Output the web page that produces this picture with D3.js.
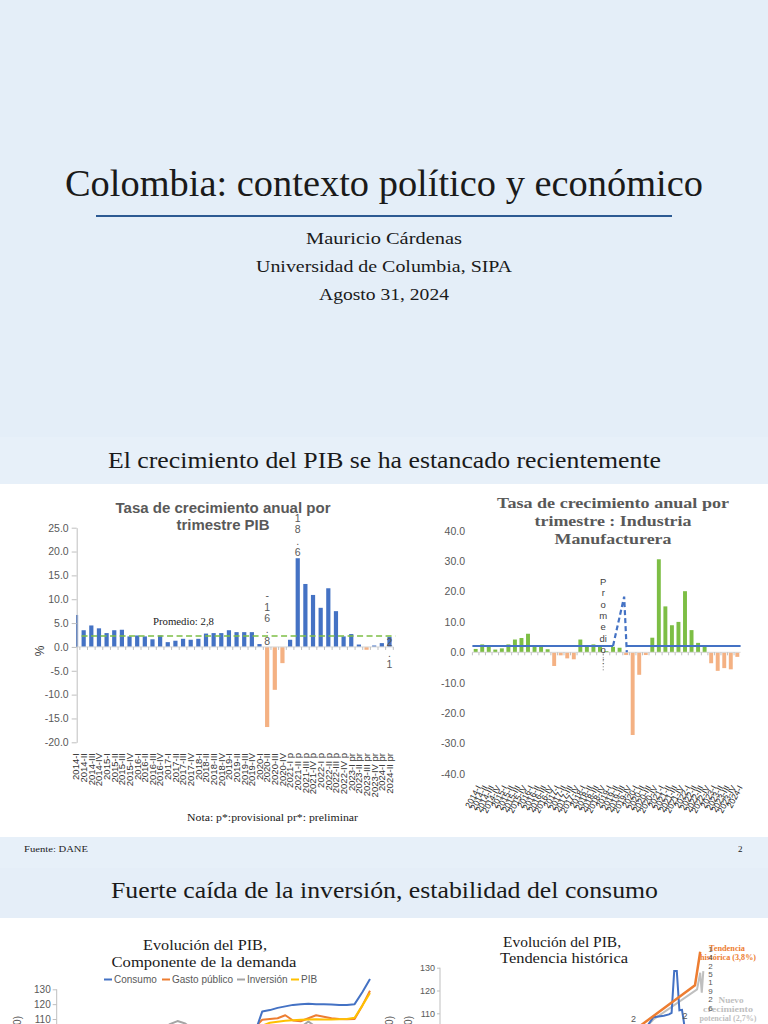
<!DOCTYPE html>
<html><head><meta charset="utf-8">
<script src="https://cdn.jsdelivr.net/npm/d3@7/dist/d3.min.js"></script>
<style>body{margin:0;background:#fff}svg{display:block}</style>
</head><body>
<svg id="c" width="768" height="1024"></svg>
<script>
// ---------------- DATA ----------------
const gdpQuarters = ["2014-I","2014-II","2014-III","2014-IV","2015-I","2015-II","2015-III","2015-IV",
 "2016-I","2016-II","2016-III","2016-IV","2017-I","2017-II","2017-III","2017-IV",
 "2018-I","2018-II","2018-III","2018-IV","2019-I","2019-II","2019-III","2019-IV",
 "2020-I","2020-II","2020-III","2020-IV","2021-I p","2021-II p","2021-III p","2021-IV p",
 "2022-I p","2022-II p","2022-III p","2022-IV p","2023-I pr","2023-II pr","2023-III pr","2023-IV pr",
 "2024-I pr","2024-II pr"];
const gdpGrowth = [6.7,3.5,4.5,3.9,2.9,3.5,3.6,2.2,2.4,2.2,1.6,2.4,1.0,1.3,1.7,1.5,1.7,2.8,2.9,2.9,
 3.5,3.1,3.1,3.1,0.6,-16.8,-9.0,-3.4,1.5,18.6,13.2,10.9,8.2,12.3,7.5,2.2,2.7,0.5,-0.6,0.3,0.8,2.1];
const gdpTicks = [25,20,15,10,5,0,-5,-10,-15,-20];
const gdpAvgLine = 2.3;
const gdpAvgText = "Promedio: 2,8";
const gdpLabelIdx = [25,29,41];

const mfgQuarters = ["2014-I","2014-II","2014-III","2014-IV","2015-I","2015-II","2015-III","2015-IV",
 "2016-I","2016-II","2016-III","2016-IV","2017-I","2017-II","2017-III","2017-IV",
 "2018-I","2018-II","2018-III","2018-IV","2019-I","2019-II","2019-III","2019-IV",
 "2020-I","2020-II","2020-III","2020-IV","2021-I","2021-II","2021-III","2021-IV",
 "2022-I","2022-II","2022-III","2022-IV","2023-I","2023-II","2023-III","2023-IV","2024-I"];
const mfgGrowth = [1.1,2.6,2.2,0.9,1.3,2.6,4.2,4.7,6.1,2.1,2.1,1.0,-4.5,-1.0,-2.0,-2.3,4.2,2.0,2.6,2.3,
 0.4,1.8,1.5,-0.9,-27.2,-7.4,-0.9,4.8,30.6,15.1,8.9,10.0,20.1,7.3,3.1,1.8,-3.6,-6.1,-5.2,-5.6,-1.5];
const mfgTicks = [40,30,20,10,0,-10,-20,-30,-40];
const mfgAvg = 2.1;
const mfgSpikeIdx = [21,22.7,23.1];
const mfgSpikeVal = [2.1,18.3,0];
const mfgAvgLetters = ["P","r","o","m","e","di","o",":"];

// demand components (quarter index from 2014-I, value index)
const demandNames = ["Consumo","Gasto público","Inversión","PIB"];
const consumoIdx = [24,25,26,27,28,29,30,31,32,33,34,35,36,37,38,39,40];
const consumoVal = [103,100,115,116,117.5,118.5,119.5,120,120.2,120,120,119.7,119.5,119.5,120,128,137];
const gastoIdx = [24,25,26,27,28,29,30,31,32,33,34,35,36,37,38,39,40];
const gastoVal = [102,104,109.5,110,110.5,112.5,109,108.5,110.5,112.5,111.5,110.5,110,109.8,110,119,129];
const inversionIdx = [12,13,14,15,16,17,18,30,31,32,33,34,40];
const inversionVal = [98,103,106.5,108.6,107,103,100,100,104.5,108.3,104.5,100,103];
const pibIdx = [25,26,27,28,29,30,31,32,33,34,35,36,37,38,39,40];
const pibVal = [100,105.5,107.5,108.2,108.8,109.2,109.5,109.6,109.8,109.6,109.7,109.8,110,110.8,119,127.5];
const demandTicks = [130,120,110];

// historical trend (year, index)
const trendT = [2016,2024,2024.5];
const trendV = [95.3,122.3,137];
const realT = [2019.0,2019.5,2020.0,2020.5,2021.0,2021.5,2021.75,2022.0,2022.25,2022.5,2022.75,2023.0];
const realV = [101,105,108.3,108.6,108.9,109.5,110.2,128.5,128.5,111.3,111.5,104];
const potT = [2019.0,2020.0,2024.2,2024.5,2024.65,2024.8];
const potV = [102.5,107.3,120.5,127.8,119,128.5];
const trendTicks = [130,120,110];

// ---------------- DRAW ----------------
const svg = d3.select("#c");
const serif = "'Liberation Serif','DejaVu Serif',serif";
const sans = "'Liberation Sans',Arial,sans-serif";
const BLUE = "#4472C4", SALMON = "#F4B183", GREEN = "#7DBE45", ORANGE = "#ED7D31", GREY = "#A5A5A5", GOLD = "#FFC000";

function label(g, s, x, y, o = {}) {
  const t = g.append("text").attr("x", x).attr("y", y).text(s)
    .attr("font-family", o.ff || serif).attr("font-size", o.fs || 12)
    .attr("fill", o.fill || "#1a1a1a").attr("text-anchor", o.anchor || "middle");
  if (o.bold) t.attr("font-weight", "bold");
  if (o.len) t.attr("textLength", o.len).attr("lengthAdjust", "spacingAndGlyphs");
  return t;
}

// backgrounds
svg.append("rect").attr("x",0).attr("y",0).attr("width",768).attr("height",437).attr("fill","#e4eef8");
svg.append("rect").attr("x",0).attr("y",437).attr("width",768).attr("height",47).attr("fill","#e7f0f9");
svg.append("rect").attr("x",0).attr("y",484).attr("width",768).attr("height",353).attr("fill","#ffffff");
svg.append("rect").attr("x",0).attr("y",837).attr("width",768).attr("height",31).attr("fill","#e7f0f9");
svg.append("rect").attr("x",0).attr("y",868).attr("width",768).attr("height",50).attr("fill","#e5eef8");
svg.append("rect").attr("x",0).attr("y",918).attr("width",768).attr("height",106).attr("fill","#ffffff");

// Slide 1
label(svg, "Colombia: contexto político y económico", 384, 196, {fs:37, len:638});
svg.append("line").attr("x1",96).attr("x2",672).attr("y1",216).attr("y2",216).attr("stroke","#2c5a93").attr("stroke-width",1.8);
label(svg, "Mauricio Cárdenas", 384, 244, {fs:17, len:156});
label(svg, "Universidad de Columbia, SIPA", 384, 272, {fs:17, len:256});
label(svg, "Agosto 31, 2024", 384, 300, {fs:17, len:130});

// Slide 2 header/footer
label(svg, "El crecimiento del PIB se ha estancado recientemente", 384.5, 468, {fs:23, len:553});
label(svg, "Fuente: DANE", 24, 852, {fs:9, anchor:"start", len:64});
label(svg, "2", 738, 852, {fs:9, anchor:"start"});

// ---------- Left chart: GDP growth ----------
const gL = svg.append("g");
const xL = d3.scaleBand().domain(gdpQuarters).range([72.2, 393.3]).paddingInner(0.45).paddingOuter(0.225);
const yL = d3.scaleLinear().domain([-20, 25]).range([742.3, 527.7]);
const axL = 76.7;
svg.append("clipPath").attr("id","clipL").append("rect").attr("x",axL-0.8).attr("y",500).attr("width",330).attr("height",260);
label(gL, "Tasa de crecimiento anual por", 223, 512.5, {ff:sans, fs:14, bold:true, fill:"#595959", len:215});
label(gL, "trimestre PIB", 223, 529.5, {ff:sans, fs:14, bold:true, fill:"#595959", len:93});

gL.append("g").attr("clip-path","url(#clipL)").selectAll("rect").data(gdpGrowth).join("rect")
  .attr("x", (d,i) => xL(gdpQuarters[i]))
  .attr("width", xL.bandwidth())
  .attr("y", d => yL(Math.max(0,d)))
  .attr("height", d => Math.abs(yL(d) - yL(0)))
  .attr("fill", d => d < 0 ? SALMON : BLUE);

const x1L = xL.range()[1];
gL.append("line").attr("x1",axL).attr("x2",x1L).attr("y1",yL(0)).attr("y2",yL(0)).attr("stroke","#d9d9d9").attr("stroke-width",1);
gL.selectAll("line.xt").data(gdpQuarters).join("line").attr("class","xt")
  .attr("x1", d => xL(d) + xL.bandwidth() + (xL.step()-xL.bandwidth())/2)
  .attr("x2", d => xL(d) + xL.bandwidth() + (xL.step()-xL.bandwidth())/2)
  .attr("y1", yL(0)).attr("y2", yL(0)+3).attr("stroke","#bfbfbf");

const yAxL = gL.append("g").attr("transform",`translate(${axL},0)`)
  .call(d3.axisLeft(yL).tickValues(gdpTicks).tickFormat(d => d.toFixed(1)).tickSize(5).tickSizeOuter(0).tickPadding(3));
yAxL.select(".domain").attr("stroke","#bfbfbf");
yAxL.selectAll(".tick line").attr("stroke","#bfbfbf");
yAxL.selectAll("text").attr("font-family",sans).attr("font-size",10.5).attr("fill","#595959");
label(gL, "%", 0, 0, {ff:sans, fs:12, fill:"#404040"}).attr("transform","translate(44,651) rotate(-90)");

gL.append("line").attr("x1", xL(gdpQuarters[1])).attr("x2", x1L+2)
  .attr("y1", yL(gdpAvgLine)).attr("y2", yL(gdpAvgLine))
  .attr("stroke","#7DBE45").attr("stroke-width",1.6).attr("stroke-dasharray","6,3.5");
label(gL, gdpAvgText, 153, 624.5, {fs:9.5, anchor:"start", len:61});

gdpLabelIdx.forEach(i => {
  const v = gdpGrowth[i], chars = v.toFixed(1).split(""), lh = 11.3, cx = xL(gdpQuarters[i]) + xL.bandwidth()/2;
  let first;
  if (i === gdpQuarters.length - 1) first = yL(v) + 5;
  else first = yL(Math.max(v,0)) - 6 - (chars.length-1)*lh;
  chars.forEach((c,k) => label(gL, c, cx, first + k*lh, {ff:sans, fs:10.5, fill:"#595959"}).attr("dy","0.35em"));
});

gL.selectAll("text.xl").data(gdpQuarters).join("text").attr("class","xl")
  .attr("transform", d => `translate(${xL(d)+xL.bandwidth()/2},753) rotate(-90)`)
  .attr("text-anchor","end").attr("dy","0.35em")
  .attr("font-family",sans).attr("font-size",9.5).attr("fill","#333")
  .text(d => d);
label(gL, "Nota: p*:provisional pr*: preliminar", 272.5, 821, {fs:10, len:171});

// ---------- Right chart: manufacturing ----------
const gR = svg.append("g");
const xR = d3.scaleBand().domain(mfgQuarters).range([472.4, 740.6]).paddingInner(0.4).paddingOuter(0.2);
const yR = d3.scaleLinear().domain([-40, 40]).range([773.9, 530.7]);
const cR = d3.scaleLinear().domain([0, mfgQuarters.length-1])
  .range([xR(mfgQuarters[0]) + xR.bandwidth()/2, xR(mfgQuarters[mfgQuarters.length-1]) + xR.bandwidth()/2]);
label(gR, "Tasa de crecimiento anual por", 613, 508, {fs:14, bold:true, fill:"#595959", len:232});
label(gR, "trimestre : Industria", 613, 526, {fs:14, bold:true, fill:"#595959", len:157});
label(gR, "Manufacturera", 613, 543.5, {fs:14, bold:true, fill:"#595959", len:117});

const yAxR = gR.append("g").attr("transform","translate(468,0)")
  .call(d3.axisLeft(yR).tickValues(mfgTicks).tickFormat(d => d.toFixed(1)).tickSize(0).tickPadding(3));
yAxR.select(".domain").remove();
yAxR.selectAll("text").attr("font-family",sans).attr("font-size",10.5).attr("fill","#595959");

gR.selectAll("rect").data(mfgGrowth).join("rect")
  .attr("x", (d,i) => xR(mfgQuarters[i])).attr("width", xR.bandwidth())
  .attr("y", d => yR(Math.max(0,d))).attr("height", d => Math.abs(yR(d)-yR(0)))
  .attr("fill", d => d < 0 ? SALMON : GREEN);

gR.append("line").attr("x1",xR.range()[0]).attr("x2",xR.range()[1]).attr("y1",yR(0)).attr("y2",yR(0)).attr("stroke","#d9d9d9");
gR.selectAll("line.xt").data(mfgQuarters).join("line").attr("class","xt")
  .attr("x1", d => xR(d) - (xR.step()-xR.bandwidth())/2).attr("x2", d => xR(d) - (xR.step()-xR.bandwidth())/2)
  .attr("y1", yR(0)).attr("y2", yR(0)+3).attr("stroke","#bfbfbf");

const lineAvg = d3.line().x(d => d[0]).y(d => d[1]);
gR.append("path").attr("d", lineAvg([[xR.range()[0], yR(mfgAvg)], [cR(mfgSpikeIdx[0]), yR(mfgAvg)]]))
  .attr("stroke",BLUE).attr("stroke-width",2).attr("fill","none");
gR.append("path").attr("d", lineAvg([[cR(mfgSpikeIdx[2]), yR(mfgAvg)], [xR.range()[1], yR(mfgAvg)]]))
  .attr("stroke",BLUE).attr("stroke-width",2).attr("fill","none");
gR.append("path").attr("d", d3.line().x((d,i)=>cR(mfgSpikeIdx[i])).y(d=>yR(d))(mfgSpikeVal))
  .attr("stroke",BLUE).attr("stroke-width",2.2).attr("fill","none").attr("stroke-dasharray","5,3");

const pX = (cR(19) + cR(20)) / 2;
mfgAvgLetters.forEach((c,k) => label(gR, c, pX, 581.7 + k*11.3, {ff:sans, fs:9.5, fill:"#404040"}).attr("dy","0.35em"));
gR.append("line").attr("x1",pX).attr("x2",pX).attr("y1",yR(0)+2).attr("y2",yR(0)+20)
  .attr("stroke","#777").attr("stroke-width",1).attr("stroke-dasharray","1,2");

gR.selectAll("text.xl").data(mfgQuarters).join("text").attr("class","xl")
  .attr("transform", d => `translate(${xR(d)+xR.bandwidth()/2+3},786) rotate(-62)`)
  .attr("text-anchor","end").attr("dy","0.35em")
  .attr("font-family",sans).attr("font-size",8.5).attr("fill","#222")
  .text(d => d);

// ---------- Slide 3 ----------
label(svg, "Fuerte caída de la inversión, estabilidad del consumo", 384.5, 898, {fs:23, len:547});

const gB = svg.append("g");
label(gB, "Evolución del PIB,", 205, 950, {fs:15, len:124});
label(gB, "Componente de la demanda", 204, 966.5, {fs:15, len:185});
const xB = d3.scaleLinear().domain([0, 40]).range([62, 370]);
const yB = d3.scaleLinear().domain([60, 140]).range([1093.25, 974.45]);
const yAxB = gB.append("g").attr("transform","translate(56.7,0)")
  .call(d3.axisLeft(yB).tickValues(demandTicks).tickSize(4).tickSizeOuter(0).tickPadding(2));
yAxB.select(".domain").attr("stroke","#bfbfbf").attr("d", `M0,${yB(130)}V1030`);
yAxB.selectAll(".tick line").attr("stroke","#bfbfbf");
yAxB.selectAll("text").attr("font-family",sans).attr("font-size",10).attr("fill","#595959");
const demandSeries = [
  {idx:inversionIdx, val:inversionVal, color:GREY},
  {idx:gastoIdx, val:gastoVal, color:ORANGE},
  {idx:pibIdx, val:pibVal, color:GOLD},
  {idx:consumoIdx, val:consumoVal, color:BLUE}
];
demandSeries.forEach(s => {
  gB.append("path").attr("d", d3.line().x((d,i)=>xB(s.idx[i])).y(d=>yB(d))(s.val))
    .attr("fill","none").attr("stroke",s.color).attr("stroke-width",2).attr("stroke-linejoin","round");
});
const legColors = {"Consumo":BLUE, "Gasto público":ORANGE, "Inversión":GREY, "PIB":GOLD};
const legX = [104, 162, 237, 291];
demandNames.forEach((n,i) => {
  gB.append("line").attr("x1",legX[i]).attr("x2",legX[i]+8).attr("y1",979.5).attr("y2",979.5).attr("stroke",legColors[n]).attr("stroke-width",2);
  label(gB, n, legX[i]+10, 983, {ff:sans, fs:10, fill:"#595959", anchor:"start"});
});
label(gB, "Índice (2019=100)", 0, 0, {ff:sans, fs:10, fill:"#595959", anchor:"end"}).attr("transform","translate(21,1016) rotate(-90)");
label(gB, "Índice (2019=100)", 0, 0, {ff:sans, fs:10, fill:"#595959", anchor:"end"}).attr("transform","translate(393,1016) rotate(-90)");

const gT = svg.append("g");
label(gT, "Evolución del PIB,", 562, 946.5, {fs:15, len:118});
label(gT, "Tendencia histórica", 564, 963, {fs:15, len:128});
const xT = d3.scaleLinear().domain([2000, 2025]).range([445.4, 705.4]);
const yT = d3.scaleLinear().domain([60, 140]).range([1127.3, 944.9]);
const yAxT = gT.append("g").attr("transform","translate(440,0)")
  .call(d3.axisLeft(yT).tickValues(trendTicks).tickSize(3).tickSizeOuter(0).tickPadding(2));
yAxT.select(".domain").attr("stroke","#bfbfbf").attr("d", `M0,${yT(130)}V1030`);
yAxT.selectAll(".tick line").attr("stroke","#bfbfbf");
yAxT.selectAll("text").attr("font-family",sans).attr("font-size",9).attr("fill","#595959");
const lT = (ts) => d3.line().x((d,i)=>xT(ts[i])).y(d=>yT(d));
gT.append("path").attr("d", lT(potT)(potV)).attr("fill","none").attr("stroke","#BFBFBF").attr("stroke-width",2);
gT.append("path").attr("d", lT(realT)(realV)).attr("fill","none").attr("stroke",BLUE).attr("stroke-width",2);
gT.append("path").attr("d", lT(trendT)(trendV)).attr("fill","none").attr("stroke",ORANGE).attr("stroke-width",2.5);
label(gT, "Tendencia", 727, 951, {fs:8, bold:true, fill:ORANGE, len:36});
label(gT, "histórica (3,8%)", 728, 959.5, {fs:8, bold:true, fill:ORANGE, len:56});
label(gT, "Nuevo", 731, 1003, {fs:8, bold:true, fill:"#BFBFBF", len:25});
label(gT, "crecimiento", 728, 1012, {fs:8, bold:true, fill:"#BFBFBF", len:50});
label(gT, "potencial (2,7%)", 728, 1021, {fs:8, bold:true, fill:"#BFBFBF", len:57});
["1","4","2","5","1","9","2","6"].forEach((c,k) => label(gT, c, 710.5, 949 + k*8.4, {ff:sans, fs:8, fill:"#555"}).attr("dy","0.35em"));
label(gT, "2", 633.5, 1022, {ff:sans, fs:9, fill:"#555"});
label(gT, "2", 685, 1019, {ff:sans, fs:9, fill:"#555"});
label(gT, "Índice (2019=100)", 0, 0, {ff:sans, fs:10, fill:"#595959", anchor:"end"}).attr("transform","translate(412,1016) rotate(-90)");
</script>
</body></html>
